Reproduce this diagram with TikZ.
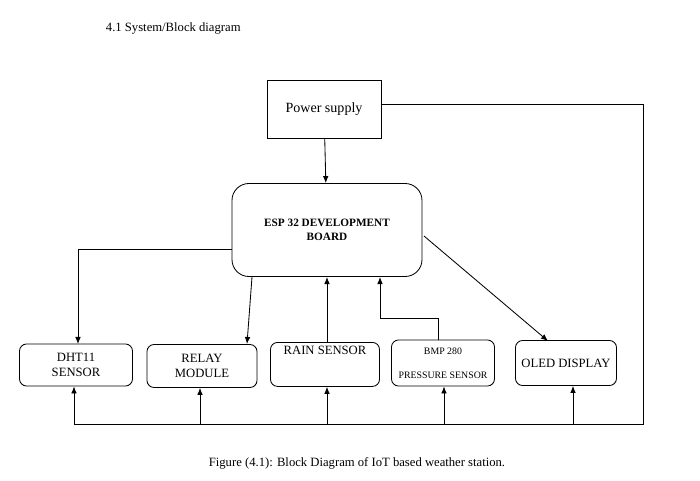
\documentclass[tikz,border=0pt]{standalone}
\usepackage{fontspec}
\setmainfont{Liberation Serif}
\usetikzlibrary{arrows.meta}
\tikzset{
  blk/.style={draw,semithick,rounded corners=5pt,align=center,inner sep=1pt},
  sq/.style={draw,semithick,align=center},
  con/.style={semithick,-{Latex[length=5pt,width=4pt]}}
}
\begin{document}
\begin{tikzpicture}[x=0.025cm,y=-0.025cm,font=\small]
\useasboundingbox (0,0) rectangle (700,481);

\node[anchor=west] (title) at (101,28) {4.1 System/Block diagram};
\node[sq,minimum width=114*0.025cm,minimum height=58*0.025cm] (pwr) at (324,109) {\normalsize Power supply};
\node[blk,minimum width=190*0.025cm,minimum height=93*0.025cm,rounded corners=12pt,font=\footnotesize\bfseries] (esp) at (327,230) {ESP 32 DEVELOPMENT\\BOARD};
\node[blk,minimum width=113*0.025cm,minimum height=42*0.025cm] (dht) at (76,365) {DHT11\\SENSOR};
\node[blk,minimum width=110*0.025cm,minimum height=43*0.025cm] (relay) at (202,366) {RELAY\\MODULE};
\node[blk,minimum width=109*0.025cm,minimum height=44*0.025cm,anchor=north] (rain) at (325,342) {RAIN SENSOR\\[9pt]};
\node[blk,minimum width=103*0.025cm,minimum height=46*0.025cm,font=\scriptsize] (bmp) at (443,363) {BMP 280\\[9pt]PRESSURE SENSOR};
\node[blk,minimum width=101*0.025cm,minimum height=45*0.025cm] (oled) at (566,363) {OLED DISPLAY};
\node (cap) at (357,463) {Figure (4.1): Block Diagram of IoT based weather station.};

\coordinate (bl) at (74,424);
\coordinate (br) at (643,424);
\coordinate (tr) at (643,104);
\coordinate (bmpk) at (380,318);

\draw[con] (pwr) -- (esp);
\draw[con] (esp.west |- 0,249) -| (78,344);
\draw[con] (252,277) -- (247,344);
\draw[con] (rain.north -| 327,0) -- (327,277);
\draw[con] (438,340) |- (bmpk) -- (380,277);
\draw[con] (424,236) -- (548,341);
\draw[semithick] (pwr.east |- tr) -- (tr) -- (br) -- (bl);
\foreach \x/\b in {74/dht,200/relay,327/rain,444/bmp,573/oled}
  \draw[con] (\x,424) -- (\b.south -| \x,0);
\end{tikzpicture}
\end{document}
